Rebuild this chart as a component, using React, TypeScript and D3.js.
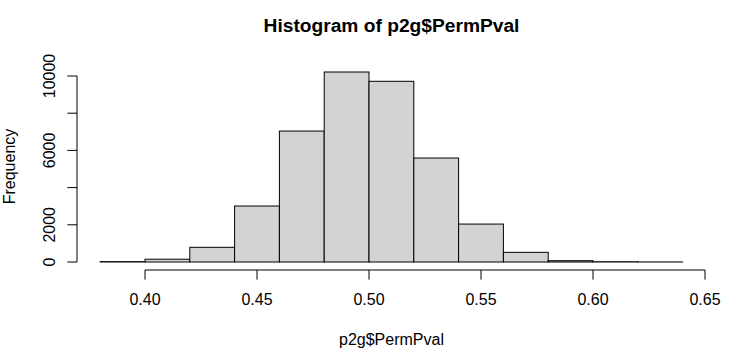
import React from "react";
import * as d3 from "d3";

const binStarts = [0.38, 0.40, 0.42, 0.44, 0.46, 0.48, 0.50, 0.52, 0.54, 0.56, 0.58, 0.60, 0.62];
const binWidth = 0.02;
const counts = [20, 150, 790, 3010, 7040, 10215, 9715, 5590, 2040, 520, 70, 15, 3];
const xTicks = [0.40, 0.45, 0.50, 0.55, 0.60, 0.65];
const yTicks = [0, 2000, 4000, 6000, 8000, 10000];
const yLabels = [0, 2000, 6000, 10000];
const title = "Histogram of p2g$PermPval";
const xTitle = "p2g$PermPval";
const yTitle = "Frequency";

export default function App() {
  const W = 732, H = 352;
  const x = d3.scaleLinear().domain([0.40, 0.65]).range([145, 705]);
  const y = d3.scaleLinear().domain([0, 10000]).range([262, 76]);
  const font = "Liberation Sans, Arial, sans-serif";
  const cx = 391.5;
  return (
    <svg width={W} height={H} style={{ position: "absolute", left: 0, top: 0 }} fontFamily={font}>
      <rect width={W} height={H} fill="#fff" />
      <text x={cx} y={31.5} textAnchor="middle" fontSize={19.2} fontWeight="bold">{title}</text>
      {binStarts.map((b, i) => (
        <rect key={i} x={x(b)} y={y(counts[i])} width={x(b + binWidth) - x(b)} height={y(0) - y(counts[i])}
          fill="#d3d3d3" stroke="#000" strokeWidth={1} />
      ))}
      {/* x axis */}
      <line x1={x(xTicks[0])} x2={x(xTicks[xTicks.length - 1])} y1={270} y2={270} stroke="#000" />
      {xTicks.map((t) => (
        <g key={t}>
          <line x1={x(t)} x2={x(t)} y1={270} y2={279.6} stroke="#000" />
          <text x={x(t)} y={305} textAnchor="middle" fontSize={16}>{t.toFixed(2)}</text>
        </g>
      ))}
      {/* y axis */}
      <line x1={77} x2={77} y1={y(0)} y2={y(10000)} stroke="#000" />
      {yTicks.map((t) => (
        <line key={t} x1={67.4} x2={77} y1={y(t)} y2={y(t)} stroke="#000" />
      ))}
      {yLabels.map((t) => (
        <text key={t} transform={`translate(54.5,${y(t)}) rotate(-90)`} textAnchor="middle" fontSize={16}>{t}</text>
      ))}
      <text x={cx} y={345} textAnchor="middle" fontSize={16}>{xTitle}</text>
      <text transform={`translate(14.5,166.5) rotate(-90)`} textAnchor="middle" fontSize={16}>{yTitle}</text>
    </svg>
  );
}
